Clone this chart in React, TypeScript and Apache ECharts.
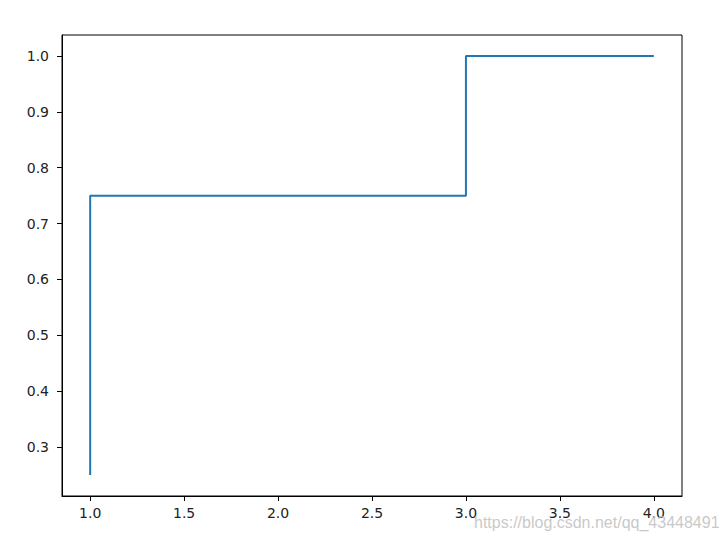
import React, { useEffect, useRef } from "react";
import * as echarts from "echarts";

const stepPoints: [number, number][] = [
  [1, 0.25],
  [1, 0.75],
  [3, 1.0],
  [4, 1.0],
];
const xTicks = [1.0, 1.5, 2.0, 2.5, 3.0, 3.5, 4.0];
const yTicks = [0.3, 0.4, 0.5, 0.6, 0.7, 0.8, 0.9, 1.0];
const watermark = "https://blog.csdn.net/qq_43448491";

export default function App() {
  const ref = useRef<HTMLDivElement>(null);
  useEffect(() => {
    if (!ref.current) return;
    const chart = echarts.init(ref.current, undefined, { renderer: "svg" });
    const font = "DejaVu Sans";
    chart.setOption({
      animation: false,
      backgroundColor: "#ffffff",
      grid: {
        left: 62,
        top: 35,
        right: 44,
        bottom: 47,
        show: true,
        borderColor: "#000000",
        borderWidth: 1,
        backgroundColor: "transparent",
      },
      xAxis: {
        type: "value",
        min: 0.85,
        max: 4.15,
        splitLine: { show: false },
        axisLine: { show: true, lineStyle: { color: "#000", width: 1 } },
        axisTick: {
          show: true,
          length: 5,
          inside: false,
          customValues: xTicks,
          lineStyle: { color: "#000", width: 1 },
        },
        axisLabel: {
          customValues: xTicks,
          formatter: (v: number) => v.toFixed(1),
          fontFamily: font,
          fontSize: 14,
          color: "#222",
          margin: 10,
        },
      },
      yAxis: {
        type: "value",
        min: 0.2125,
        max: 1.0375,
        splitLine: { show: false },
        axisLine: { show: true, lineStyle: { color: "#000", width: 1 } },
        axisTick: {
          show: true,
          length: 5,
          inside: false,
          customValues: yTicks,
          lineStyle: { color: "#000", width: 1 },
        },
        axisLabel: {
          customValues: yTicks,
          formatter: (v: number) => v.toFixed(1),
          fontFamily: font,
          fontSize: 14,
          color: "#222",
          margin: 13,
        },
      },
      series: [
        {
          type: "line",
          step: "end",
          data: stepPoints,
          showSymbol: false,
          symbol: "none",
          lineStyle: { color: "#1f77b4", width: 2 },
        },
      ],
      graphic: [
        {
          type: "text",
          left: 474,
          top: 514,
          style: {
            text: watermark,
            fill: "rgba(190,190,190,0.85)",
            fontFamily: "Liberation Sans",
            fontSize: 16,
          },
          z: 100,
        },
      ],
    });
    return () => chart.dispose();
  }, []);
  return (
    <div
      ref={ref}
      style={{ position: "fixed", left: 0, top: 0, width: 726, height: 543 }}
    />
  );
}
